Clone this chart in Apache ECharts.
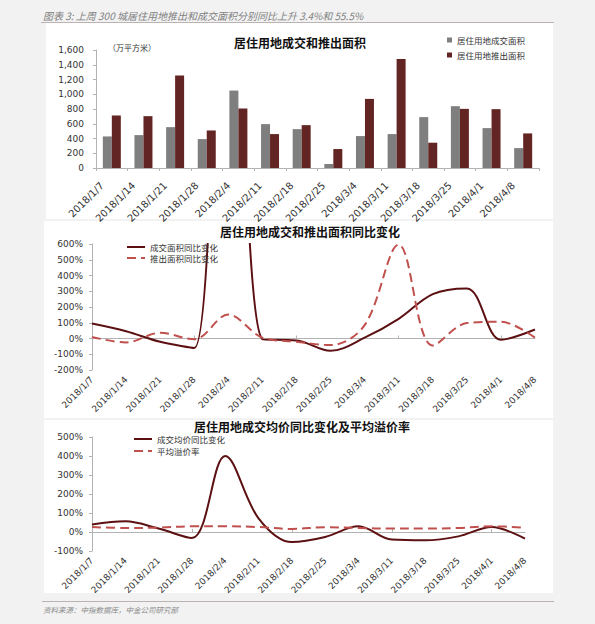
<!DOCTYPE html>
<html>
<head>
<meta charset="utf-8">
<script src="https://cdn.jsdelivr.net/npm/echarts@6/dist/echarts.min.js"></script>
<style>
html,body{margin:0;padding:0;background:#f2f2f2;}
#c{width:595px;height:624px;}
</style>
</head>
<body>
<div id="c"></div>
<script>
// ---- data ----
const dates = ['2018/1/7','2018/1/14','2018/1/21','2018/1/28','2018/2/4','2018/2/11','2018/2/18','2018/2/25','2018/3/4','2018/3/11','2018/3/18','2018/3/25','2018/4/1','2018/4/8'];
const dealArea   = [428, 446, 554, 392, 1050, 595, 527, 54, 433, 460, 690, 838, 541, 270];
const supplyArea = [712, 703, 1253, 509, 807, 460, 581, 257, 937, 1478, 343, 802, 798, 469];
const dealAreaYoY   = [95, 46, -21, -60, 4000, -5, -12, -78, 5, 125, 282, 318, -8, 57];
const supplyAreaYoY = [10, -25, 36, -5, 152, 5, -20, -42, 85, 596, -45, 98, 106, 5];
const priceYoY = [39, 56, 18, -32, 400, 72, -53, -26, 30, -40, -44, -23, 26, -35];
const premium  = [26, 21, 23, 30, 30, 26, 16, 25, 21, 18, 18, 21, 30, 23];
const areaTicks = [0, 200, 400, 600, 800, 1000, 1200, 1400, 1600];

const headerText = '图表 3: 上周 300 城居住用地推出和成交面积分别同比上升 3.4%和 55.5%';
const sourceText = '资料来源：中指数据库，中金公司研究部';
const title1 = '居住用地成交和推出面积';
const title2 = '居住用地成交和推出面积同比变化';
const title3 = '居住用地成交均价同比变化及平均溢价率';
const unitText = '（万平方米）';
const names1 = ['居住用地成交面积', '居住用地推出面积'];
const names2 = ['成交面积同比变化', '推出面积同比变化'];
const names3 = ['成交均价同比变化', '平均溢价率'];

// ---- styles ----
const CJK = '"Noto Sans CJK SC"';
const NUM = '"DejaVu Sans"';
const axisGray = '#b3b3b3';
const labelColor = '#333333';
const gray = '#7f7f7f', maroon = '#632523';
const darkLine = '#5c1012', dashLine = '#c0504d';

const chart = echarts.init(document.getElementById('c'), null, {renderer: 'svg', width: 595, height: 624});

function yAxisCfg(grid, min, max, interval, margin, fmt) {
  return {
    type: 'value', gridIndex: grid, min: min, max: max, interval: interval,
    axisLine: {show: true, lineStyle: {color: axisGray, width: 1}},
    axisTick: {show: true, length: 3, lineStyle: {color: axisGray}},
    splitLine: {show: false},
    axisLabel: {margin: margin, color: labelColor, fontFamily: NUM, fontSize: 9, formatter: fmt}
  };
}
function labelXAxis(grid, boundaryGap, fontSize, pad, margin) {
  return {
    type: 'category', gridIndex: grid, data: dates, boundaryGap: boundaryGap,
    axisLine: {show: false, onZero: false},
    axisTick: {show: false},
    axisLabel: {interval: 0, rotate: 45, margin: margin, color: labelColor, fontFamily: NUM, fontSize: fontSize, padding: [0, pad, 0, 0]}
  };
}
function zeroXAxis(grid) {
  return {
    type: 'category', gridIndex: grid, data: dates, boundaryGap: false, position: 'top',
    axisLine: {show: true, onZero: true, lineStyle: {color: axisGray, width: 1}},
    axisTick: {show: true, length: 3, lineStyle: {color: axisGray}},
    axisLabel: {show: false}
  };
}
function legendItem(name, left, top, iw, ih, icon) {
  const l = {
    left: left, top: top, orient: 'vertical', data: [name], itemWidth: iw, itemHeight: ih,
    padding: 0, itemGap: 0,
    textStyle: {fontFamily: CJK, fontSize: 8.5, color: labelColor, lineHeight: 12}
  };
  if (icon) l.icon = icon;
  else l.itemStyle = {opacity: 0};
  return l;
}
const pct = v => v + '%';

const option = {
  backgroundColor: '#f2f2f2',
  animation: false,
  graphic: [
    {type: 'rect', z: -10, silent: true, shape: {x: 46, y: 23, width: 507, height: 196}, style: {fill: '#ffffff'}},
    {type: 'rect', z: -10, silent: true, shape: {x: 44, y: 221, width: 509, height: 197}, style: {fill: '#ffffff'}},
    {type: 'rect', z: -10, silent: true, shape: {x: 44, y: 420, width: 509, height: 173}, style: {fill: '#ffffff'}},
    {type: 'line', z: -5, silent: true, shape: {x1: 41, y1: 22.5, x2: 554, y2: 22.5}, style: {stroke: '#bbb2b2', lineWidth: 1}},
    {type: 'line', z: -5, silent: true, shape: {x1: 42, y1: 601.5, x2: 554, y2: 601.5}, style: {stroke: '#bbb2b2', lineWidth: 1}},
    {type: 'text', silent: true, style: {text: headerText, x: 43, y: 15, fill: '#808080', font: 'italic 10px ' + CJK, verticalAlign: 'middle'}},
    {type: 'text', silent: true, style: {text: sourceText, x: 43, y: 609, fill: '#8c8c8c', font: 'italic 7.5px ' + CJK, verticalAlign: 'middle'}},
    {type: 'text', silent: true, style: {text: unitText, x: 108, y: 47, fill: labelColor, font: '8px ' + CJK, verticalAlign: 'middle'}},
    {type: 'text', silent: true, style: {text: title1, x: 300, y: 42, fill: '#111', font: 'bold 12px ' + CJK, align: 'center', verticalAlign: 'middle'}},
    {type: 'text', silent: true, style: {text: title2, x: 310, y: 231, fill: '#111', font: 'bold 12px ' + CJK, align: 'center', verticalAlign: 'middle'}},
    {type: 'text', silent: true, style: {text: title3, x: 302, y: 426, fill: '#111', font: 'bold 12px ' + CJK, align: 'center', verticalAlign: 'middle'}}
  ],
  legend: [
    legendItem(names1[0], 447, 34, 5, 5, 'rect'),
    legendItem(names1[1], 447, 49, 5, 5, 'rect'),
    legendItem(names2[0], 126, 241, 18, 8),
    legendItem(names2[1], 126, 252, 18, 8),
    legendItem(names3[0], 133, 433, 18, 8),
    legendItem(names3[1], 133, 445, 18, 8)
  ],
  grid: [
    {left: 96, right: 56, top: 50, bottom: 456, containLabel: false},
    {left: 92, right: 60, top: 244, bottom: 254, containLabel: false},
    {left: 92, right: 70, top: 437, bottom: 73, containLabel: false}
  ],
  xAxis: [
    {
      type: 'category', gridIndex: 0, data: dates, boundaryGap: true,
      axisLine: {show: true, lineStyle: {color: axisGray, width: 1}},
      axisTick: {show: true, length: 3, lineStyle: {color: axisGray}},
      axisLabel: {interval: 0, rotate: 45, margin: 6, color: labelColor, fontFamily: NUM, fontSize: 10, padding: [0, 14, 0, 0]}
    },
    labelXAxis(1, false, 9, 0, 8),
    zeroXAxis(1),
    labelXAxis(2, false, 9, 0, 8),
    zeroXAxis(2)
  ],
  yAxis: [
    yAxisCfg(0, areaTicks[0], areaTicks[areaTicks.length - 1], 200, 12, v => v.toLocaleString('en-US')),
    yAxisCfg(1, -200, 600, 100, 9, pct),
    yAxisCfg(2, -100, 500, 100, 9, pct)
  ],
  series: [
    {name: names1[0], type: 'bar', xAxisIndex: 0, yAxisIndex: 0, data: dealArea, barWidth: 9, barGap: '0%', itemStyle: {color: gray}},
    {name: names1[1], type: 'bar', xAxisIndex: 0, yAxisIndex: 0, data: supplyArea, barWidth: 9, barGap: '0%', itemStyle: {color: maroon}},
    {name: names2[0], type: 'line', xAxisIndex: 1, yAxisIndex: 1, data: dealAreaYoY, smooth: 0.35, symbol: 'none', clip: true,
      lineStyle: {color: darkLine, width: 2}, itemStyle: {color: darkLine}},
    {name: names2[1], type: 'line', xAxisIndex: 1, yAxisIndex: 1, data: supplyAreaYoY, smooth: 0.35, symbol: 'none', clip: true,
      lineStyle: {color: dashLine, width: 2, type: [9, 5]}, itemStyle: {color: dashLine}},
    {name: names3[0], type: 'line', xAxisIndex: 3, yAxisIndex: 2, data: priceYoY, smooth: 0.35, symbol: 'none', clip: true,
      lineStyle: {color: darkLine, width: 2}, itemStyle: {color: darkLine}},
    {name: names3[1], type: 'line', xAxisIndex: 3, yAxisIndex: 2, data: premium, smooth: 0.35, symbol: 'none', clip: true,
      lineStyle: {color: dashLine, width: 2, type: [9, 5]}, itemStyle: {color: dashLine}}
  ]
};
chart.setOption(option);
</script>
</body>
</html>
